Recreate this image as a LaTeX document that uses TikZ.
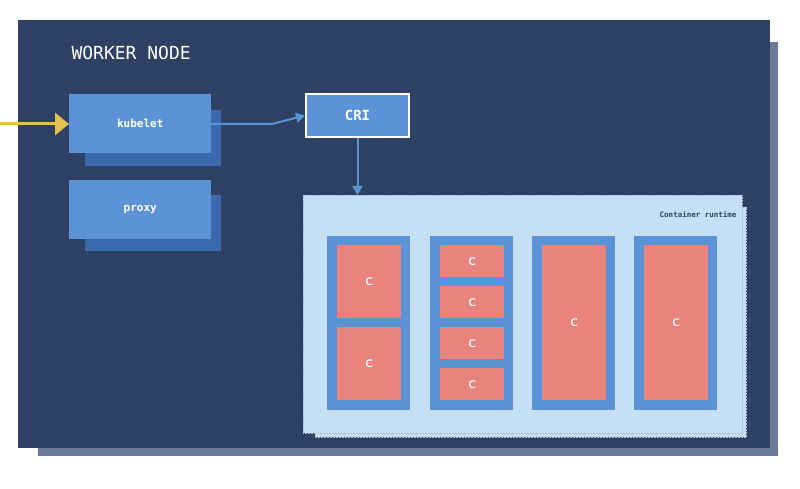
\documentclass[tikz,border=0pt]{standalone}
\usepackage{fontspec}
\setmonofont{DejaVu Sans Mono}
\usetikzlibrary{arrows.meta}
\usetikzlibrary{positioning}
\definecolor{navy}{HTML}{2E4063}
\definecolor{navyshadow}{HTML}{6B7A99}
\definecolor{boxblue}{HTML}{5B93D6}
\definecolor{boxshadow}{HTML}{3D6AAD}
\definecolor{rtblue}{HTML}{C5E0F5}
\definecolor{ctred}{HTML}{E8837D}
\definecolor{gold}{HTML}{E5C150}
\begin{document}
\begin{tikzpicture}[x=1pt,y=-1pt,
  comp/.style={fill=boxblue,draw=none,minimum width=142pt,minimum height=59pt,text=white,font=\ttfamily\bfseries\fontsize{11}{11}\selectfont},
  compshadow/.style={fill=boxshadow,draw=none,minimum width=136pt,minimum height=56pt},
  pod/.style={fill=boxblue,draw=none,anchor=north west},
  ctr/.style={fill=ctred,draw=none,anchor=north west,text=white,font=\sffamily\bfseries\fontsize{11}{11}\selectfont,minimum width=64pt},
  link/.style={draw=boxblue,line width=2pt,-{Triangle[length=9pt,width=10pt]}}]
  \useasboundingbox (0,0) rectangle (800,489);
  \fill[white] (0,0) rectangle (800,489);
  \fill[navyshadow] (38,42) rectangle (778,456);
  \fill[navy] (18,20) rectangle (770,448);
  \node[anchor=west,text=white,font=\ttfamily\fontsize{18}{18}\selectfont] (title) at (68,53) {WORKER NODE};
  % components
  \node[compshadow,anchor=north west] (kubs) at (85,110) {};
  \node[comp,anchor=north west] (kubelet) at (69,94) {kubelet};
  \node[compshadow,anchor=north west] (proxs) at (85,195) {};
  \node[comp,anchor=north west] (proxy) at (69,180) {proxy};
  \node[fill=boxblue,draw=white,line width=2pt,anchor=north west,minimum width=103pt,minimum height=43pt,text=white,font=\ttfamily\bfseries\fontsize{14}{14}\selectfont] (cri) at (305,93) {CRI};
  % runtime
  \fill[rtblue,draw=rtblue!80!navy,densely dotted,line width=0.5pt] (315,207) rectangle (746,437);
  \node[fill=rtblue,draw=rtblue!80!navy,densely dotted,line width=0.5pt,anchor=north west,minimum width=439pt,minimum height=238pt] (rt) at (303,195) {};
  \node[anchor=north east,font=\ttfamily\bfseries\fontsize{7.5}{7.5}\selectfont,text=navy] (rtlabel) at (740,208) {Container runtime};
  % pods
  \foreach \x/\n in {327/p1,430/p2,532/p3,634/p4}
    \node[pod,minimum width=83pt,minimum height=174pt] (\n) at (\x,236) {};
  \node[ctr,minimum height=73pt] (c11) at (337,245) {C};
  \node[ctr,minimum height=73pt] (c12) at (337,327) {C};
  \foreach \y/\n in {245/c21,286/c22,327/c23,368/c24}
    \node[ctr,minimum height=32pt] (\n) at (440,\y) {C};
  \node[ctr,minimum height=155pt] (c31) at (542,245) {C};
  \node[ctr,minimum height=155pt] (c41) at (644,245) {C};
  % arrows
  \coordinate (in) at (0,124);
  \draw[draw=gold,line width=3pt,-{Triangle[length=14pt,width=22pt]}] (in) -- (kubelet.west |- in);
  \coordinate (bend) at (272,124);
  \draw[link] (kubelet.east |- bend) -- (bend) -- (cri.west);
  \draw[link] (cri.south) -- (rt.north -| cri.south);
\end{tikzpicture}
\end{document}
